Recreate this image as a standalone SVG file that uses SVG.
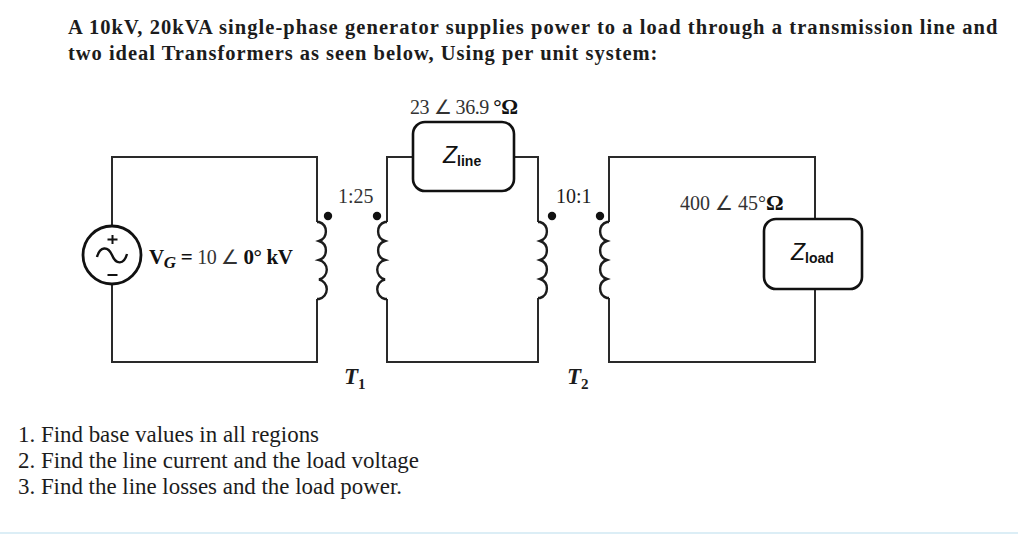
<svg xmlns="http://www.w3.org/2000/svg" width="1018" height="534" viewBox="0 0 1018 534">
<style>
text{font-family:"Liberation Serif","Times New Roman",serif;fill:#1c1c1c}
.h{font-size:20.500px;font-weight:bold;letter-spacing:.6px}
.q{font-size:24px}
.v{font-size:20px;fill:#333}
.b{font-weight:bold;fill:#111}
.s{font-family:"Liberation Sans",Arial,sans-serif;fill:#111}
.w{fill:none;stroke:#2a2a2a;stroke-width:2}
.c{fill:none;stroke:#1c1c1c;stroke-width:2.4}
.box{fill:#fff;stroke:#111;stroke-width:2.6}
.d{fill:#111}
</style>
<rect width="1018" height="534" fill="#fff"/>
<rect y="532" width="1018" height="2" fill="#dceef6"/>
<g id="heading">
<text class="h" x="68" y="34" textLength="930">A 10kV, 20kVA single-phase generator supplies power to a load through a transmission line and</text>
<text class="h" x="68" y="60" textLength="590">two ideal Transformers as seen below, Using per unit system:</text>
</g>
<g id="connectors">
<path class="w" d="M112 226V157H317V222M317 299V362H112V285"/>
<path class="w" d="M387 222V157H412M514 157H538V222M538 298V362H387V299"/>
<path class="w" d="M609 222V157H815V218M815 290V362H609V298"/>
</g>
<g id="source">
<circle cx="112" cy="255" r="29" fill="#fff" stroke="#111" stroke-width="2.800"/>
<path d="M97 257C100 246 108 246 112 255C116 265 124 265 127 254" fill="none" stroke="#111" stroke-width="2.400"/>
<path d="M107.500 239.500H117.500M112.500 235V244M107.500 275H117.500" stroke="#111" stroke-width="2" fill="none"/>
<text x="149" y="264" class="b" font-size="21" textLength="144">V<tspan font-size="17" font-style="italic" dy="4">G</tspan><tspan dy="-4"> = </tspan><tspan class="v" font-weight="normal">10 ∠ </tspan>0° kV</text>
</g>
<g id="T1">
<path class="c" d="M317 222H319A10 10 0 0 1 319 241A10 10 0 0 1 319 260A10 10 0 0 1 319 279.500A10 10 0 0 1 319 299H317"/>
<path class="c" d="M387 222H385A10 10 0 0 0 385 241A10 10 0 0 0 385 260A10 10 0 0 0 385 279.500A10 10 0 0 0 385 299H387"/>
<circle class="d" cx="328" cy="216" r="4.200"/>
<circle class="d" cx="377" cy="216" r="4.200"/>
<text class="v" x="338" y="203">1:25</text>
<text x="344" y="384" font-size="23" font-style="italic" font-weight="bold">T<tspan font-size="15" font-style="normal" dy="5">1</tspan></text>
</g>
<g id="T2">
<path class="c" d="M538 222H540A10 10 0 0 1 540 241A10 10 0 0 1 540 260A10 10 0 0 1 540 279A10 10 0 0 1 540 298H538"/>
<path class="c" d="M609 222H607A10 10 0 0 0 607 241A10 10 0 0 0 607 260A10 10 0 0 0 607 279A10 10 0 0 0 607 298H609"/>
<circle class="d" cx="552" cy="216" r="4.200"/>
<circle class="d" cx="600" cy="216" r="4.200"/>
<text x="556" y="203" font-size="20" fill="#111">10:1</text>
<text x="567" y="384" font-size="23" font-style="italic" font-weight="bold">T<tspan font-size="15" font-style="normal" dy="5">2</tspan></text>
</g>
<g id="Zline">
<rect class="box" x="413" y="122" width="101" height="69" rx="12"/>
<text x="443" y="163" font-size="23" class="s" font-style="italic">Z<tspan font-size="14" font-style="normal" font-weight="bold" dy="3">line</tspan></text>
<text class="v" x="410" y="114" textLength="108">23 ∠ 36.9 <tspan class="b" font-size="21">°Ω</tspan></text>
</g>
<g id="Zload">
<rect class="box" x="764" y="219" width="98" height="70" rx="12"/>
<text x="791" y="260" font-size="23" class="s" font-style="italic">Z<tspan font-size="14" font-style="normal" font-weight="bold" dy="3">load</tspan></text>
<text class="v" x="680" y="210">400 ∠ 45°<tspan class="b" font-size="22">Ω</tspan></text>
</g>
<g id="questions">
<text class="q" x="18" y="442" textLength="301" lengthAdjust="spacingAndGlyphs">1. Find base values in all regions</text>
<text class="q" x="18" y="468" textLength="401" lengthAdjust="spacingAndGlyphs">2. Find the line current and the load voltage</text>
<text class="q" x="18" y="494" textLength="384" lengthAdjust="spacingAndGlyphs">3. Find the line losses and the load power.</text>
</g>
</svg>
